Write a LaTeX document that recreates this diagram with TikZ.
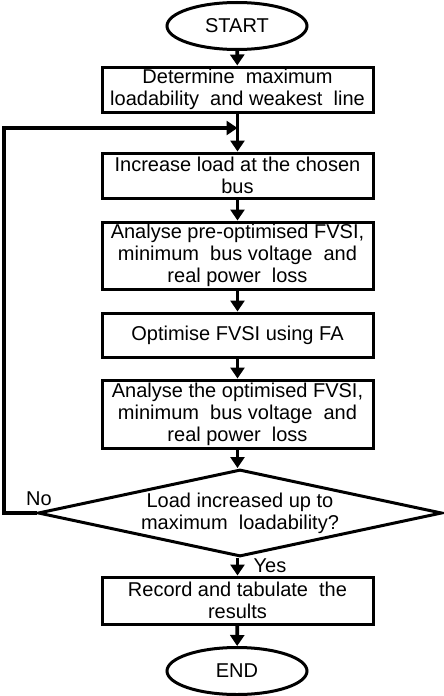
\documentclass[tikz,border=0pt]{standalone}
\usepackage{fontspec}
\setmainfont{Liberation Sans}
\usetikzlibrary{arrows.meta,shapes.geometric}
\begin{document}
\begin{tikzpicture}[x=1pt,y=-1pt,
  every node/.style={font=\fontsize{20}{22}\selectfont},
  procbox/.style={draw,line width=3pt,minimum width=271pt,inner sep=0pt,align=center},
  term/.style={draw,ellipse,line width=3pt,minimum width=140pt,minimum height=47pt,inner sep=0pt},
  decis/.style={draw,diamond,line width=3pt,minimum width=404pt,minimum height=87pt,inner sep=0pt,aspect=4.6,align=center},
  conn/.style={line width=3.8pt,-{Triangle[width=14pt,length=11pt]}},
  lbl/.style={inner sep=0pt}
]
\useasboundingbox (0,0) rectangle (444,696);
\node[term] (start) at (237,26) {START};
\node[procbox,minimum height=45pt] (b1) at (237.5,89.5) {Determine\ \ maximum\\loadability\ \ and\ weakest\ \ line};
\node[procbox,minimum height=45pt] (b2) at (237.5,175.5) {Increase load at the chosen\\bus};
\node[procbox,minimum height=67pt] (b3) at (237.5,255.5) {Analyse pre-optimised FVSI,\\minimum\ \ bus\ voltage\ \ and\\real power\ \ loss};
\node[procbox,minimum height=44pt] (b4) at (237.5,335) {Optimise FVSI using FA};
\node[procbox,minimum height=68pt] (b5) at (237.5,414) {Analyse the optimised FVSI,\\minimum\ \ bus\ voltage\ \ and\\real power\ \ loss};
\node[decis] (dec) at (240,513) {Load increased up to\\maximum\ \ loadability?};
\node[procbox,minimum height=47pt] (b6) at (237.5,600.5) {Record and\ tabulate\ \ the\\results};
\node[term] (end) at (237,671) {END};
\node[lbl] (no) at (39,499) {No};
\node[lbl] (yes) at (270,566) {Yes};
\coordinate (dl) at (4,513);
\coordinate (j) at (237.5,128);
\draw[conn] (start) -- (b1);
\draw[conn] (b1) -- (b2);
\draw[conn] (b2) -- (b3);
\draw[conn] (b3) -- (b4);
\draw[conn] (b4) -- (b5);
\draw[conn] (b5.south) -- (b5.south |- dec.north);
\draw[conn] (b6.north |- dec.south) -- (b6.north);
\draw[conn] (b6) -- (end);
\draw[conn,line join=miter] (dec.west) -- (dl) |- (j);
\end{tikzpicture}
\end{document}
